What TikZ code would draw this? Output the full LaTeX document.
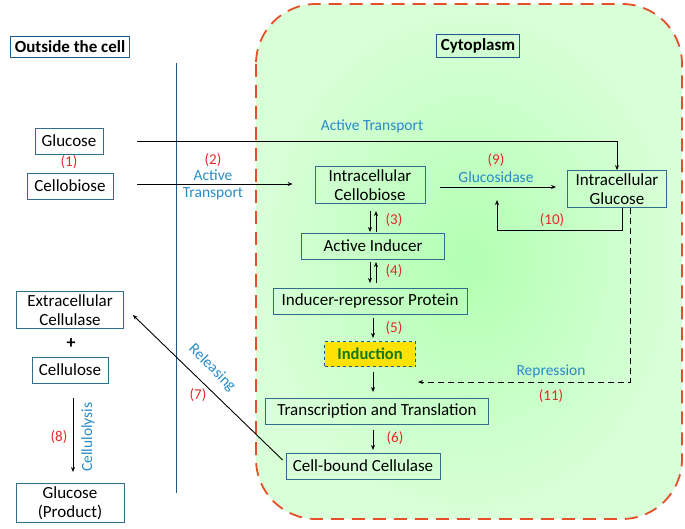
\documentclass[tikz,border=0pt]{standalone}
\usepackage{fontspec}
\setmainfont{Carlito}
\usetikzlibrary{arrows.meta,calc}
\definecolor{boxblue}{RGB}{49,110,140}
\definecolor{lineblue}{RGB}{31,90,140}
\definecolor{txtblue}{RGB}{40,140,200}
\definecolor{numred}{RGB}{230,40,40}
\definecolor{cellred}{RGB}{230,80,40}
\definecolor{indgreen}{RGB}{20,120,20}
\begin{document}
\begin{tikzpicture}[x=1pt,y=-1pt,
  box/.style={draw=boxblue, line width=0.8pt, align=center, inner sep=3pt,
    font=\fontsize{17}{19}\selectfont, minimum height=26pt},
  num/.style={text=numred, font=\fontsize{15}{17}\selectfont},
  lbl/.style={text=txtblue, font=\fontsize{15.5}{17}\selectfont, align=center},
  arr/.style={-{Stealth[length=5pt,width=4pt]}, line width=0.9pt}
]
\useasboundingbox (0,0) rectangle (685,529);
% cytoplasm
\shade[inner color=green!30!white, outer color=green!15!white, rounded corners=60pt]
  (256,4) rectangle (682,519);
\draw[cellred, line width=1.8pt, dash pattern=on 13pt off 8pt, rounded corners=60pt]
  (256,4) rectangle (682,519);
% membrane line
\draw[lineblue, line width=1pt] (176,63) -- (176,493);
% titles
\node[draw=lineblue, line width=1pt, font=\bfseries\fontsize{17}{19}\selectfont, inner sep=4pt] (out) at (70,47) {Outside the cell};
\node[draw=lineblue, line width=1pt, font=\bfseries\fontsize{17}{19}\selectfont, inner sep=4pt] (cyto) at (478,46) {Cytoplasm};
% outside nodes
\node[box, minimum width=68pt] (glc) at (69,141) {Glucose};
\node[num] (n1) at (69,162) {(1)};
\node[box, minimum width=86pt] (cbo) at (70,186) {Cellobiose};
\node[box, minimum width=107pt] (ecel) at (70,310) {Extracellular\\Cellulase};
\node[font=\bfseries\fontsize{18}{18}\selectfont] (plus) at (71,344) {+};
\node[box, minimum width=76pt] (cel) at (70,370) {Cellulose};
\node[box, minimum width=108pt] (gp) at (70,503) {Glucose\\(Product)};
% inside nodes
\node[box, minimum width=110pt] (icb) at (370,185) {Intracellular\\Cellobiose};
\node[box, minimum width=99pt] (igl) at (617,189) {Intracellular\\Glucose};
\node[box, minimum width=143pt] (ai) at (373,246) {Active Inducer};
\node[box, minimum width=194pt] (irp) at (370,301) {Inducer-repressor Protein};
\node[box, draw=lineblue, dashed, fill=yellow!85!orange, text=indgreen, minimum width=91pt, minimum height=25pt,
  font=\bfseries\fontsize{16.5}{18}\selectfont] (ind) at (370,354) {Induction};
\node[box, minimum width=223pt] (tt) at (377,411) {Transcription and Translation};
\node[box, minimum width=154pt] (cbc) at (363,466) {Cell-bound Cellulase};
% transport arrows
\draw[arr] (glc.east) ++(34,0) coordinate (g0) -- (g0 -| igl.north) -- (igl.north);
\node[lbl] (at1) at (372,126) {Active Transport};
\draw[arr] ($(cbo.east)+(24,-2)$) -- ($(icb.west)+(-22,-1)$);
\node[num] (n2) at (213,160) {(2)};
\node[lbl] (at2) at (213,185) {Active\\Transport};
% glucosidase
\draw[arr] ($(icb.east)+(15,2)$) -- ($(igl.west)+(-11,-2)$);
\node[num] (n9) at (496,160) {(9)};
\node[lbl] (gsd) at (496,177) {Glucosidase};
\draw[arr] ($(igl.south)+(5,0)$) |- (497,230) -- (497,200);
\node[num] (n10) at (552,220) {(10)};
% repression
\draw[arr, dash pattern=on 6pt off 4pt] ($(igl.south)+(13,0)$) |- (418,382);
\node[lbl] (rep) at (551,371) {Repression};
\node[num] (n11) at (551,396) {(11)};
% chain
\draw[arr] (370,211) -- (370,232);
\draw[arr] (376,232) -- (376,211);
\node[num] (n3) at (394,220) {(3)};
\draw[arr] (370,262) -- (370,283);
\draw[arr] (376,283) -- (376,262);
\node[num] (n4) at (394,271) {(4)};
\draw[arr] (373,318) -- (373,338);
\node[num] (n5) at (394,328) {(5)};
\draw[arr] (373,372) -- (373,392);
\draw[arr] (373,430) -- (373,450);
\node[num] (n6) at (395,438) {(6)};
% releasing
\draw[arr] (cbc.west) ++(-3,-6) -- ($(ecel.east)+(9,5)$);
\node[lbl, rotate=-45] (rel) at (212,368) {Releasing};
\node[num] (n7) at (198,395) {(7)};
% cellulolysis
\draw[arr] (73,398) -- (73,472);
\node[num] (n8) at (59,437) {(8)};
\node[lbl, rotate=90] (cll) at (88,437) {Cellulolysis};
\end{tikzpicture}
\end{document}
